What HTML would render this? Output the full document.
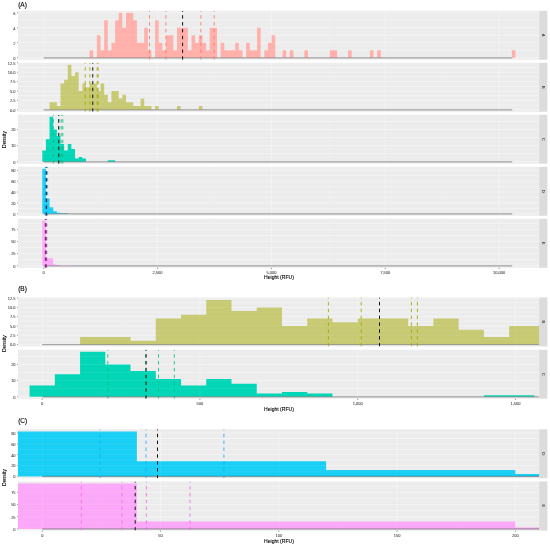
<!DOCTYPE html>
<html><head><meta charset="utf-8"><title>Height (RFU) density histograms</title>
<style>
html,body{margin:0;padding:0;background:#fff}
svg{display:block}
text{font-family:"Liberation Sans",sans-serif}
.t{font-size:4px;fill:#4D4D4D;stroke:#4D4D4D;stroke-width:0.08px}
.s{font-size:4.3px;fill:#1A1A1A}
.a{font-size:5.1px;fill:#000;stroke:#000;stroke-width:0.1px}
.h{font-size:6.5px;fill:#000;stroke:#000;stroke-width:0.12px}
</style></head><body>
<svg width="550" height="548" viewBox="0 0 550 548">
<rect width="550" height="548" fill="#fff"/>
<clipPath id="c0"><rect x="18" y="10.8" width="521.15" height="48.95"/></clipPath>
<rect x="18" y="10.8" width="521.15" height="48.95" fill="#ECECEC"/>
<rect x="539.15" y="10.8" width="8.25" height="48.95" fill="#DCDCDC"/>
<g clip-path="url(#c0)">
<path d="M18 50.24H539.15M18 35.22H539.15M18 20.21H539.15" stroke="#fff" stroke-opacity="0.42" stroke-width="0.9" fill="none"/>
<path d="M18 57.75H539.15M18 42.73H539.15M18 27.72H539.15M18 12.7H539.15" stroke="#fff" stroke-opacity="0.45" stroke-width="0.9" fill="none"/>
<path d="M100.62 10.8V59.75M214.47 10.8V59.75M328.32 10.8V59.75M442.17 10.8V59.75" stroke="#fff" stroke-opacity="0.22" stroke-width="0.6" fill="none"/>
<path d="M43.7 10.8V59.75M157.55 10.8V59.75M271.4 10.8V59.75M385.25 10.8V59.75M499.1 10.8V59.75" stroke="#fff" stroke-opacity="0.38" stroke-width="0.9" fill="none"/>
<line x1="43.7" x2="512.2" y1="57.75" y2="57.75" stroke="#A3A3A3" stroke-width="1.15"/>
<path d="M89.6 57.75V50.24H93.24V57.75ZM96.88 57.75V35.22H100.52V57.75ZM100.52 57.75V50.24H104.16V57.75ZM104.16 57.75V20.21H107.8V57.75ZM107.8 57.75V50.24H111.44V57.75ZM111.44 57.75V42.73H115.08V57.75ZM115.08 57.75V20.21H118.72V57.75ZM118.72 57.75V12.7H122.36V57.75ZM122.36 57.75V27.72H126V57.75ZM126 57.75V12.7H129.64V57.75ZM129.64 57.75V12.7H133.28V57.75ZM133.28 57.75V20.21H136.92V57.75ZM136.92 57.75V42.73H140.56V57.75ZM140.56 57.75V42.73H144.2V57.75ZM144.2 57.75V27.72H147.84V57.75ZM147.84 57.75V50.24H151.48V57.75ZM155.12 57.75V20.21H158.76V57.75ZM158.76 57.75V42.73H162.4V57.75ZM162.4 57.75V50.24H166.04V57.75ZM166.04 57.75V35.22H169.68V57.75ZM169.68 57.75V35.22H173.32V57.75ZM173.32 57.75V50.24H176.96V57.75ZM176.96 57.75V27.72H180.6V57.75ZM180.6 57.75V27.72H184.24V57.75ZM184.24 57.75V27.72H187.88V57.75ZM187.88 57.75V50.24H191.52V57.75ZM191.52 57.75V35.22H195.16V57.75ZM195.16 57.75V42.73H198.8V57.75ZM198.8 57.75V35.22H202.44V57.75ZM202.44 57.75V42.73H206.08V57.75ZM206.08 57.75V50.24H209.72V57.75ZM209.72 57.75V27.72H213.36V57.75ZM213.36 57.75V27.72H217V57.75ZM220.64 57.75V42.73H224.28V57.75ZM224.28 57.75V50.24H227.92V57.75ZM227.92 57.75V50.24H231.56V57.75ZM231.56 57.75V50.24H235.2V57.75ZM235.2 57.75V42.73H238.84V57.75ZM238.84 57.75V50.24H242.48V57.75ZM246.12 57.75V42.73H249.76V57.75ZM249.76 57.75V50.24H253.4V57.75ZM253.4 57.75V50.24H257.04V57.75ZM257.04 57.75V27.72H260.68V57.75ZM264.32 57.75V50.24H267.96V57.75ZM267.96 57.75V42.73H271.6V57.75ZM271.6 57.75V35.22H275.24V57.75ZM282.52 57.75V50.24H286.16V57.75ZM289.8 57.75V50.24H293.44V57.75ZM304.36 57.75V50.24H308V57.75ZM329.84 57.75V50.24H333.48V57.75ZM333.48 57.75V50.24H337.12V57.75ZM348.04 57.75V50.24H351.68V57.75ZM369.88 57.75V50.24H373.52V57.75ZM377.16 57.75V50.24H380.8V57.75ZM511.84 57.75V50.24H515.48V57.75Z" fill="#FFB0AA"/>
<path d="M18 50.24H539.15M18 35.22H539.15M18 20.21H539.15" stroke="#fff" stroke-opacity="0.084" stroke-width="0.9" fill="none"/>
<path d="M18 57.75H539.15M18 42.73H539.15M18 27.72H539.15M18 12.7H539.15" stroke="#fff" stroke-opacity="0.09" stroke-width="0.9" fill="none"/>
<path d="M100.62 10.8V59.75M214.47 10.8V59.75M328.32 10.8V59.75M442.17 10.8V59.75" stroke="#fff" stroke-opacity="0.044" stroke-width="0.6" fill="none"/>
<path d="M43.7 10.8V59.75M157.55 10.8V59.75M271.4 10.8V59.75M385.25 10.8V59.75M499.1 10.8V59.75" stroke="#fff" stroke-opacity="0.076" stroke-width="0.9" fill="none"/>
<line x1="43.7" x2="512.2" y1="58.04" y2="58.04" stroke="#A3A3A3" stroke-width="0.575"/>
<path d="M89.6 57.75V57.17H93.24V57.75ZM96.88 57.75V57.17H100.52V57.75ZM100.52 57.75V57.17H104.16V57.75ZM104.16 57.75V57.17H107.8V57.75ZM107.8 57.75V57.17H111.44V57.75ZM111.44 57.75V57.17H115.08V57.75ZM115.08 57.75V57.17H118.72V57.75ZM118.72 57.75V57.17H122.36V57.75ZM122.36 57.75V57.17H126V57.75ZM126 57.75V57.17H129.64V57.75ZM129.64 57.75V57.17H133.28V57.75ZM133.28 57.75V57.17H136.92V57.75ZM136.92 57.75V57.17H140.56V57.75ZM140.56 57.75V57.17H144.2V57.75ZM144.2 57.75V57.17H147.84V57.75ZM147.84 57.75V57.17H151.48V57.75ZM155.12 57.75V57.17H158.76V57.75ZM158.76 57.75V57.17H162.4V57.75ZM162.4 57.75V57.17H166.04V57.75ZM166.04 57.75V57.17H169.68V57.75ZM169.68 57.75V57.17H173.32V57.75ZM173.32 57.75V57.17H176.96V57.75ZM176.96 57.75V57.17H180.6V57.75ZM180.6 57.75V57.17H184.24V57.75ZM184.24 57.75V57.17H187.88V57.75ZM187.88 57.75V57.17H191.52V57.75ZM191.52 57.75V57.17H195.16V57.75ZM195.16 57.75V57.17H198.8V57.75ZM198.8 57.75V57.17H202.44V57.75ZM202.44 57.75V57.17H206.08V57.75ZM206.08 57.75V57.17H209.72V57.75ZM209.72 57.75V57.17H213.36V57.75ZM213.36 57.75V57.17H217V57.75ZM220.64 57.75V57.17H224.28V57.75ZM224.28 57.75V57.17H227.92V57.75ZM227.92 57.75V57.17H231.56V57.75ZM231.56 57.75V57.17H235.2V57.75ZM235.2 57.75V57.17H238.84V57.75ZM238.84 57.75V57.17H242.48V57.75ZM246.12 57.75V57.17H249.76V57.75ZM249.76 57.75V57.17H253.4V57.75ZM253.4 57.75V57.17H257.04V57.75ZM257.04 57.75V57.17H260.68V57.75ZM264.32 57.75V57.17H267.96V57.75ZM267.96 57.75V57.17H271.6V57.75ZM271.6 57.75V57.17H275.24V57.75ZM282.52 57.75V57.17H286.16V57.75ZM289.8 57.75V57.17H293.44V57.75ZM304.36 57.75V57.17H308V57.75ZM329.84 57.75V57.17H333.48V57.75ZM333.48 57.75V57.17H337.12V57.75ZM348.04 57.75V57.17H351.68V57.75ZM369.88 57.75V57.17H373.52V57.75ZM377.16 57.75V57.17H380.8V57.75ZM511.84 57.75V57.17H512.2V57.75Z" fill="#000" fill-opacity="0.22"/>
<line x1="149.5" x2="149.5" y1="59.75" y2="10.8" stroke="#F8766D" stroke-width="0.85" stroke-dasharray="3.42 3.43"/>
<line x1="165.9" x2="165.9" y1="59.75" y2="10.8" stroke="#F8766D" stroke-width="0.85" stroke-dasharray="3.42 3.43"/>
<line x1="200.9" x2="200.9" y1="59.75" y2="10.8" stroke="#F8766D" stroke-width="0.85" stroke-dasharray="3.42 3.43"/>
<line x1="214.15" x2="214.15" y1="59.75" y2="10.8" stroke="#F8766D" stroke-width="0.85" stroke-dasharray="3.42 3.43"/>
<line x1="182.6" x2="182.6" y1="59.75" y2="10.8" stroke="#111" stroke-width="1.0" stroke-dasharray="3.42 3.43"/>
</g>
<line x1="17" x2="18" y1="57.75" y2="57.75" stroke="#333" stroke-width="0.5"/>
<text x="15.6" y="59.55" text-anchor="end" class="t">0</text>
<line x1="17" x2="18" y1="42.73" y2="42.73" stroke="#333" stroke-width="0.5"/>
<text x="15.6" y="44.53" text-anchor="end" class="t">2</text>
<line x1="17" x2="18" y1="27.72" y2="27.72" stroke="#333" stroke-width="0.5"/>
<text x="15.6" y="29.52" text-anchor="end" class="t">4</text>
<line x1="17" x2="18" y1="12.7" y2="12.7" stroke="#333" stroke-width="0.5"/>
<text x="15.6" y="14.5" text-anchor="end" class="t">6</text>
<text transform="translate(541.57 35.27) rotate(90)" text-anchor="middle" class="s">A</text>
<clipPath id="c1"><rect x="18" y="62.8" width="521.15" height="48.95"/></clipPath>
<rect x="18" y="62.8" width="521.15" height="48.95" fill="#ECECEC"/>
<rect x="539.15" y="62.8" width="8.25" height="48.95" fill="#DCDCDC"/>
<g clip-path="url(#c1)">
<path d="M18 105.06H539.15M18 95.67H539.15M18 86.29H539.15M18 76.9H539.15M18 67.52H539.15" stroke="#fff" stroke-opacity="0.42" stroke-width="0.9" fill="none"/>
<path d="M18 109.75H539.15M18 100.36H539.15M18 90.98H539.15M18 81.59H539.15M18 72.21H539.15M18 62.82H539.15" stroke="#fff" stroke-opacity="0.45" stroke-width="0.9" fill="none"/>
<path d="M100.62 62.8V111.75M214.47 62.8V111.75M328.32 62.8V111.75M442.17 62.8V111.75" stroke="#fff" stroke-opacity="0.22" stroke-width="0.6" fill="none"/>
<path d="M43.7 62.8V111.75M157.55 62.8V111.75M271.4 62.8V111.75M385.25 62.8V111.75M499.1 62.8V111.75" stroke="#fff" stroke-opacity="0.38" stroke-width="0.9" fill="none"/>
<line x1="43.7" x2="512.2" y1="109.75" y2="109.75" stroke="#A3A3A3" stroke-width="1.15"/>
<path d="M49.56 109.75V102.24H53.2V109.75ZM53.2 109.75V102.24H56.84V109.75ZM56.84 109.75V106H60.48V109.75ZM60.48 109.75V83.47H64.12V109.75ZM64.12 109.75V79.72H67.76V109.75ZM67.76 109.75V64.7H71.4V109.75ZM71.4 109.75V75.96H75.04V109.75ZM75.04 109.75V72.21H78.68V109.75ZM78.68 109.75V90.98H82.32V109.75ZM82.32 109.75V83.47H85.96V109.75ZM85.96 109.75V87.22H89.6V109.75ZM89.6 109.75V83.47H93.24V109.75ZM93.24 109.75V83.47H96.88V109.75ZM96.88 109.75V90.98H100.52V109.75ZM100.52 109.75V83.47H104.16V109.75ZM104.16 109.75V94.73H107.8V109.75ZM107.8 109.75V102.24H111.44V109.75ZM111.44 109.75V90.98H115.08V109.75ZM115.08 109.75V90.98H118.72V109.75ZM118.72 109.75V98.49H122.36V109.75ZM122.36 109.75V94.73H126V109.75ZM126 109.75V102.24H129.64V109.75ZM129.64 109.75V102.24H133.28V109.75ZM133.28 109.75V106H136.92V109.75ZM136.92 109.75V106H140.56V109.75ZM140.56 109.75V98.49H144.2V109.75ZM144.2 109.75V106H147.84V109.75ZM147.84 109.75V106H151.48V109.75ZM155.12 109.75V106H158.76V109.75ZM176.96 109.75V106H180.6V109.75ZM198.8 109.75V106H202.44V109.75Z" fill="#C7CA72"/>
<path d="M18 105.06H539.15M18 95.67H539.15M18 86.29H539.15M18 76.9H539.15M18 67.52H539.15" stroke="#fff" stroke-opacity="0.084" stroke-width="0.9" fill="none"/>
<path d="M18 109.75H539.15M18 100.36H539.15M18 90.98H539.15M18 81.59H539.15M18 72.21H539.15M18 62.82H539.15" stroke="#fff" stroke-opacity="0.09" stroke-width="0.9" fill="none"/>
<path d="M100.62 62.8V111.75M214.47 62.8V111.75M328.32 62.8V111.75M442.17 62.8V111.75" stroke="#fff" stroke-opacity="0.044" stroke-width="0.6" fill="none"/>
<path d="M43.7 62.8V111.75M157.55 62.8V111.75M271.4 62.8V111.75M385.25 62.8V111.75M499.1 62.8V111.75" stroke="#fff" stroke-opacity="0.076" stroke-width="0.9" fill="none"/>
<line x1="43.7" x2="512.2" y1="110.04" y2="110.04" stroke="#A3A3A3" stroke-width="0.575"/>
<path d="M49.56 109.75V109.17H53.2V109.75ZM53.2 109.75V109.17H56.84V109.75ZM56.84 109.75V109.17H60.48V109.75ZM60.48 109.75V109.17H64.12V109.75ZM64.12 109.75V109.17H67.76V109.75ZM67.76 109.75V109.17H71.4V109.75ZM71.4 109.75V109.17H75.04V109.75ZM75.04 109.75V109.17H78.68V109.75ZM78.68 109.75V109.17H82.32V109.75ZM82.32 109.75V109.17H85.96V109.75ZM85.96 109.75V109.17H89.6V109.75ZM89.6 109.75V109.17H93.24V109.75ZM93.24 109.75V109.17H96.88V109.75ZM96.88 109.75V109.17H100.52V109.75ZM100.52 109.75V109.17H104.16V109.75ZM104.16 109.75V109.17H107.8V109.75ZM107.8 109.75V109.17H111.44V109.75ZM111.44 109.75V109.17H115.08V109.75ZM115.08 109.75V109.17H118.72V109.75ZM118.72 109.75V109.17H122.36V109.75ZM122.36 109.75V109.17H126V109.75ZM126 109.75V109.17H129.64V109.75ZM129.64 109.75V109.17H133.28V109.75ZM133.28 109.75V109.17H136.92V109.75ZM136.92 109.75V109.17H140.56V109.75ZM140.56 109.75V109.17H144.2V109.75ZM144.2 109.75V109.17H147.84V109.75ZM147.84 109.75V109.17H151.48V109.75ZM155.12 109.75V109.17H158.76V109.75ZM176.96 109.75V109.17H180.6V109.75ZM198.8 109.75V109.17H202.44V109.75Z" fill="#000" fill-opacity="0.22"/>
<line x1="85.25" x2="85.25" y1="111.75" y2="62.8" stroke="#A3A500" stroke-width="0.85" stroke-dasharray="3.42 3.43"/>
<line x1="89.85" x2="89.85" y1="111.75" y2="62.8" stroke="#A3A500" stroke-width="0.85" stroke-dasharray="3.42 3.43"/>
<line x1="97.2" x2="97.2" y1="111.75" y2="62.8" stroke="#A3A500" stroke-width="0.85" stroke-dasharray="3.42 3.43"/>
<line x1="98.1" x2="98.1" y1="111.75" y2="62.8" stroke="#A3A500" stroke-width="0.85" stroke-dasharray="3.42 3.43"/>
<line x1="92.75" x2="92.75" y1="111.75" y2="62.8" stroke="#111" stroke-width="1.0" stroke-dasharray="3.42 3.43"/>
</g>
<line x1="17" x2="18" y1="109.75" y2="109.75" stroke="#333" stroke-width="0.5"/>
<text x="15.6" y="111.55" text-anchor="end" class="t">0.0</text>
<line x1="17" x2="18" y1="100.36" y2="100.36" stroke="#333" stroke-width="0.5"/>
<text x="15.6" y="102.16" text-anchor="end" class="t">2.5</text>
<line x1="17" x2="18" y1="90.98" y2="90.98" stroke="#333" stroke-width="0.5"/>
<text x="15.6" y="92.78" text-anchor="end" class="t">5.0</text>
<line x1="17" x2="18" y1="81.59" y2="81.59" stroke="#333" stroke-width="0.5"/>
<text x="15.6" y="83.39" text-anchor="end" class="t">7.5</text>
<line x1="17" x2="18" y1="72.21" y2="72.21" stroke="#333" stroke-width="0.5"/>
<text x="15.6" y="74.01" text-anchor="end" class="t">10.0</text>
<line x1="17" x2="18" y1="62.82" y2="62.82" stroke="#333" stroke-width="0.5"/>
<text x="15.6" y="64.62" text-anchor="end" class="t">12.5</text>
<text transform="translate(541.57 87.28) rotate(90)" text-anchor="middle" class="s">B</text>
<clipPath id="c2"><rect x="18" y="114.8" width="521.15" height="48.95"/></clipPath>
<rect x="18" y="114.8" width="521.15" height="48.95" fill="#ECECEC"/>
<rect x="539.15" y="114.8" width="8.25" height="48.95" fill="#DCDCDC"/>
<g clip-path="url(#c2)">
<path d="M18 153.71H539.15M18 137.62H539.15M18 121.53H539.15" stroke="#fff" stroke-opacity="0.42" stroke-width="0.9" fill="none"/>
<path d="M18 161.75H539.15M18 145.66H539.15M18 129.57H539.15" stroke="#fff" stroke-opacity="0.45" stroke-width="0.9" fill="none"/>
<path d="M100.62 114.8V163.75M214.47 114.8V163.75M328.32 114.8V163.75M442.17 114.8V163.75" stroke="#fff" stroke-opacity="0.22" stroke-width="0.6" fill="none"/>
<path d="M43.7 114.8V163.75M157.55 114.8V163.75M271.4 114.8V163.75M385.25 114.8V163.75M499.1 114.8V163.75" stroke="#fff" stroke-opacity="0.38" stroke-width="0.9" fill="none"/>
<line x1="43.7" x2="512.2" y1="161.75" y2="161.75" stroke="#A3A3A3" stroke-width="1.15"/>
<path d="M42.28 161.75V150.49H45.92V161.75ZM45.92 161.75V139.22H49.56V161.75ZM49.56 161.75V116.7H53.2V161.75ZM53.2 161.75V129.57H56.84V161.75ZM56.84 161.75V136.01H60.48V161.75ZM60.48 161.75V144.05H64.12V161.75ZM64.12 161.75V150.49H67.76V161.75ZM67.76 161.75V144.05H71.4V161.75ZM71.4 161.75V148.88H75.04V161.75ZM75.04 161.75V158.53H78.68V161.75ZM78.68 161.75V156.92H82.32V161.75ZM82.32 161.75V158.53H85.96V161.75ZM107.8 161.75V160.14H111.44V161.75ZM111.44 161.75V160.14H115.08V161.75Z" fill="#03D6B6"/>
<path d="M18 153.71H539.15M18 137.62H539.15M18 121.53H539.15" stroke="#fff" stroke-opacity="0.084" stroke-width="0.9" fill="none"/>
<path d="M18 161.75H539.15M18 145.66H539.15M18 129.57H539.15" stroke="#fff" stroke-opacity="0.09" stroke-width="0.9" fill="none"/>
<path d="M100.62 114.8V163.75M214.47 114.8V163.75M328.32 114.8V163.75M442.17 114.8V163.75" stroke="#fff" stroke-opacity="0.044" stroke-width="0.6" fill="none"/>
<path d="M43.7 114.8V163.75M157.55 114.8V163.75M271.4 114.8V163.75M385.25 114.8V163.75M499.1 114.8V163.75" stroke="#fff" stroke-opacity="0.076" stroke-width="0.9" fill="none"/>
<line x1="43.7" x2="512.2" y1="162.04" y2="162.04" stroke="#A3A3A3" stroke-width="0.575"/>
<path d="M43.7 161.75V161.18H45.92V161.75ZM45.92 161.75V161.18H49.56V161.75ZM49.56 161.75V161.18H53.2V161.75ZM53.2 161.75V161.18H56.84V161.75ZM56.84 161.75V161.18H60.48V161.75ZM60.48 161.75V161.18H64.12V161.75ZM64.12 161.75V161.18H67.76V161.75ZM67.76 161.75V161.18H71.4V161.75ZM71.4 161.75V161.18H75.04V161.75ZM75.04 161.75V161.18H78.68V161.75ZM78.68 161.75V161.18H82.32V161.75ZM82.32 161.75V161.18H85.96V161.75ZM107.8 161.75V161.18H111.44V161.75ZM111.44 161.75V161.18H115.08V161.75Z" fill="#000" fill-opacity="0.22"/>
<line x1="53.3" x2="53.3" y1="163.75" y2="114.8" stroke="#00BF7D" stroke-width="0.85" stroke-dasharray="3.42 3.43"/>
<line x1="58.5" x2="58.5" y1="163.75" y2="114.8" stroke="#00BF7D" stroke-width="0.85" stroke-dasharray="3.42 3.43"/>
<line x1="61.2" x2="61.2" y1="163.75" y2="114.8" stroke="#00BF7D" stroke-width="0.85" stroke-dasharray="3.42 3.43"/>
<line x1="62.8" x2="62.8" y1="163.75" y2="114.8" stroke="#00BF7D" stroke-width="0.85" stroke-dasharray="3.42 3.43"/>
<line x1="58.8" x2="58.8" y1="163.75" y2="114.8" stroke="#111" stroke-width="1.0" stroke-dasharray="3.42 3.43"/>
</g>
<line x1="17" x2="18" y1="161.75" y2="161.75" stroke="#333" stroke-width="0.5"/>
<text x="15.6" y="163.55" text-anchor="end" class="t">0</text>
<line x1="17" x2="18" y1="145.66" y2="145.66" stroke="#333" stroke-width="0.5"/>
<text x="15.6" y="147.46" text-anchor="end" class="t">10</text>
<line x1="17" x2="18" y1="129.57" y2="129.57" stroke="#333" stroke-width="0.5"/>
<text x="15.6" y="131.37" text-anchor="end" class="t">20</text>
<text transform="translate(541.57 139.28) rotate(90)" text-anchor="middle" class="s">C</text>
<clipPath id="c3"><rect x="18" y="166.8" width="521.15" height="48.95"/></clipPath>
<rect x="18" y="166.8" width="521.15" height="48.95" fill="#ECECEC"/>
<rect x="539.15" y="166.8" width="8.25" height="48.95" fill="#DCDCDC"/>
<g clip-path="url(#c3)">
<path d="M18 208.32H539.15M18 197.47H539.15M18 186.61H539.15M18 175.76H539.15" stroke="#fff" stroke-opacity="0.42" stroke-width="0.9" fill="none"/>
<path d="M18 213.75H539.15M18 202.89H539.15M18 192.04H539.15M18 181.18H539.15M18 170.33H539.15" stroke="#fff" stroke-opacity="0.45" stroke-width="0.9" fill="none"/>
<path d="M100.62 166.8V215.75M214.47 166.8V215.75M328.32 166.8V215.75M442.17 166.8V215.75" stroke="#fff" stroke-opacity="0.22" stroke-width="0.6" fill="none"/>
<path d="M43.7 166.8V215.75M157.55 166.8V215.75M271.4 166.8V215.75M385.25 166.8V215.75M499.1 166.8V215.75" stroke="#fff" stroke-opacity="0.38" stroke-width="0.9" fill="none"/>
<line x1="43.7" x2="512.2" y1="213.75" y2="213.75" stroke="#A3A3A3" stroke-width="1.15"/>
<path d="M42.28 213.75V168.7H45.92V213.75ZM45.92 213.75V198.55H49.56V213.75ZM49.56 213.75V207.24H53.2V213.75ZM53.2 213.75V211.36H56.84V213.75ZM56.84 213.75V212.66H60.48V213.75ZM60.48 213.75V213.21H64.12V213.75ZM64.12 213.75V213.21H67.76V213.75Z" fill="#19CFF5"/>
<path d="M18 208.32H539.15M18 197.47H539.15M18 186.61H539.15M18 175.76H539.15" stroke="#fff" stroke-opacity="0.084" stroke-width="0.9" fill="none"/>
<path d="M18 213.75H539.15M18 202.89H539.15M18 192.04H539.15M18 181.18H539.15M18 170.33H539.15" stroke="#fff" stroke-opacity="0.09" stroke-width="0.9" fill="none"/>
<path d="M100.62 166.8V215.75M214.47 166.8V215.75M328.32 166.8V215.75M442.17 166.8V215.75" stroke="#fff" stroke-opacity="0.044" stroke-width="0.6" fill="none"/>
<path d="M43.7 166.8V215.75M157.55 166.8V215.75M271.4 166.8V215.75M385.25 166.8V215.75M499.1 166.8V215.75" stroke="#fff" stroke-opacity="0.076" stroke-width="0.9" fill="none"/>
<line x1="43.7" x2="512.2" y1="214.04" y2="214.04" stroke="#A3A3A3" stroke-width="0.575"/>
<path d="M43.7 213.75V213.18H45.92V213.75ZM45.92 213.75V213.18H49.56V213.75ZM49.56 213.75V213.18H53.2V213.75ZM53.2 213.75V213.18H56.84V213.75ZM56.84 213.75V213.18H60.48V213.75ZM60.48 213.75V213.18H64.12V213.75ZM64.12 213.75V213.18H67.76V213.75Z" fill="#000" fill-opacity="0.22"/>
<line x1="45.2" x2="45.2" y1="215.75" y2="166.8" stroke="#1AAEF5" stroke-width="0.85" stroke-dasharray="3.42 3.43"/>
<line x1="46.1" x2="46.1" y1="215.75" y2="166.8" stroke="#1AAEF5" stroke-width="0.85" stroke-dasharray="3.42 3.43"/>
<line x1="47.6" x2="47.6" y1="215.75" y2="166.8" stroke="#1AAEF5" stroke-width="0.85" stroke-dasharray="3.42 3.43"/>
<line x1="46.3" x2="46.3" y1="215.75" y2="166.8" stroke="#111" stroke-width="1.0" stroke-dasharray="3.42 3.43"/>
</g>
<line x1="17" x2="18" y1="213.75" y2="213.75" stroke="#333" stroke-width="0.5"/>
<text x="15.6" y="215.55" text-anchor="end" class="t">0</text>
<line x1="17" x2="18" y1="202.89" y2="202.89" stroke="#333" stroke-width="0.5"/>
<text x="15.6" y="204.69" text-anchor="end" class="t">20</text>
<line x1="17" x2="18" y1="192.04" y2="192.04" stroke="#333" stroke-width="0.5"/>
<text x="15.6" y="193.84" text-anchor="end" class="t">40</text>
<line x1="17" x2="18" y1="181.18" y2="181.18" stroke="#333" stroke-width="0.5"/>
<text x="15.6" y="182.98" text-anchor="end" class="t">60</text>
<line x1="17" x2="18" y1="170.33" y2="170.33" stroke="#333" stroke-width="0.5"/>
<text x="15.6" y="172.13" text-anchor="end" class="t">80</text>
<text transform="translate(541.57 191.28) rotate(90)" text-anchor="middle" class="s">D</text>
<clipPath id="c4"><rect x="18" y="218.8" width="521.15" height="48.95"/></clipPath>
<rect x="18" y="218.8" width="521.15" height="48.95" fill="#ECECEC"/>
<rect x="539.15" y="218.8" width="8.25" height="48.95" fill="#DCDCDC"/>
<g clip-path="url(#c4)">
<path d="M18 259.69H539.15M18 247.58H539.15M18 235.47H539.15M18 223.36H539.15" stroke="#fff" stroke-opacity="0.42" stroke-width="0.9" fill="none"/>
<path d="M18 265.75H539.15M18 253.64H539.15M18 241.53H539.15M18 229.42H539.15" stroke="#fff" stroke-opacity="0.45" stroke-width="0.9" fill="none"/>
<path d="M100.62 218.8V267.75M214.47 218.8V267.75M328.32 218.8V267.75M442.17 218.8V267.75" stroke="#fff" stroke-opacity="0.22" stroke-width="0.6" fill="none"/>
<path d="M43.7 218.8V267.75M157.55 218.8V267.75M271.4 218.8V267.75M385.25 218.8V267.75M499.1 218.8V267.75" stroke="#fff" stroke-opacity="0.38" stroke-width="0.9" fill="none"/>
<line x1="43.7" x2="512.2" y1="265.75" y2="265.75" stroke="#A3A3A3" stroke-width="1.15"/>
<path d="M42.28 265.75V220.7H45.92V265.75ZM45.92 265.75V258.24H49.56V265.75ZM49.56 265.75V258.24H53.2V265.75ZM53.2 265.75V264.39H56.84V265.75ZM56.84 265.75V265.17H60.48V265.75ZM60.48 265.75V265.27H64.12V265.75ZM64.12 265.75V265.27H67.76V265.75ZM67.76 265.75V265.27H71.4V265.75Z" fill="#FCA8F8"/>
<path d="M18 259.69H539.15M18 247.58H539.15M18 235.47H539.15M18 223.36H539.15" stroke="#fff" stroke-opacity="0.084" stroke-width="0.9" fill="none"/>
<path d="M18 265.75H539.15M18 253.64H539.15M18 241.53H539.15M18 229.42H539.15" stroke="#fff" stroke-opacity="0.09" stroke-width="0.9" fill="none"/>
<path d="M100.62 218.8V267.75M214.47 218.8V267.75M328.32 218.8V267.75M442.17 218.8V267.75" stroke="#fff" stroke-opacity="0.044" stroke-width="0.6" fill="none"/>
<path d="M43.7 218.8V267.75M157.55 218.8V267.75M271.4 218.8V267.75M385.25 218.8V267.75M499.1 218.8V267.75" stroke="#fff" stroke-opacity="0.076" stroke-width="0.9" fill="none"/>
<line x1="43.7" x2="512.2" y1="266.04" y2="266.04" stroke="#A3A3A3" stroke-width="0.575"/>
<path d="M43.7 265.75V265.18H45.92V265.75ZM45.92 265.75V265.18H49.56V265.75ZM49.56 265.75V265.18H53.2V265.75ZM53.2 265.75V265.18H56.84V265.75ZM56.84 265.75V265.18H60.48V265.75Z" fill="#000" fill-opacity="0.22"/>
<line x1="44.85" x2="44.85" y1="267.75" y2="218.8" stroke="#F26CEE" stroke-width="0.85" stroke-dasharray="3.42 3.43"/>
<line x1="45.6" x2="45.6" y1="267.75" y2="218.8" stroke="#F26CEE" stroke-width="0.85" stroke-dasharray="3.42 3.43"/>
<line x1="46.1" x2="46.1" y1="267.75" y2="218.8" stroke="#F26CEE" stroke-width="0.85" stroke-dasharray="3.42 3.43"/>
<line x1="46.9" x2="46.9" y1="267.75" y2="218.8" stroke="#F26CEE" stroke-width="0.85" stroke-dasharray="3.42 3.43"/>
<line x1="45.9" x2="45.9" y1="267.75" y2="218.8" stroke="#111" stroke-width="1.0" stroke-dasharray="3.42 3.43"/>
</g>
<line x1="17" x2="18" y1="265.75" y2="265.75" stroke="#333" stroke-width="0.5"/>
<text x="15.6" y="267.55" text-anchor="end" class="t">0</text>
<line x1="17" x2="18" y1="253.64" y2="253.64" stroke="#333" stroke-width="0.5"/>
<text x="15.6" y="255.44" text-anchor="end" class="t">25</text>
<line x1="17" x2="18" y1="241.53" y2="241.53" stroke="#333" stroke-width="0.5"/>
<text x="15.6" y="243.33" text-anchor="end" class="t">50</text>
<line x1="17" x2="18" y1="229.42" y2="229.42" stroke="#333" stroke-width="0.5"/>
<text x="15.6" y="231.22" text-anchor="end" class="t">75</text>
<text transform="translate(541.57 243.28) rotate(90)" text-anchor="middle" class="s">E</text>
<line x1="43.7" x2="43.7" y1="267.75" y2="269.05" stroke="#333" stroke-width="0.5"/>
<text x="43.7" y="273.7" text-anchor="middle" class="t">0</text>
<line x1="157.55" x2="157.55" y1="267.75" y2="269.05" stroke="#333" stroke-width="0.5"/>
<text x="157.55" y="273.7" text-anchor="middle" class="t">2,500</text>
<line x1="271.4" x2="271.4" y1="267.75" y2="269.05" stroke="#333" stroke-width="0.5"/>
<text x="271.4" y="273.7" text-anchor="middle" class="t">5,000</text>
<line x1="385.25" x2="385.25" y1="267.75" y2="269.05" stroke="#333" stroke-width="0.5"/>
<text x="385.25" y="273.7" text-anchor="middle" class="t">7,500</text>
<line x1="499.1" x2="499.1" y1="267.75" y2="269.05" stroke="#333" stroke-width="0.5"/>
<text x="499.1" y="273.7" text-anchor="middle" class="t">10,000</text>
<text x="279" y="279.4" text-anchor="middle" class="a">Height (RFU)</text>
<text x="18.2" y="6.5" class="h">(A)</text>
<text transform="translate(6.1 139.5) rotate(-90)" text-anchor="middle" class="a">Density</text>
<clipPath id="c5"><rect x="18" y="297.45" width="521.15" height="49"/></clipPath>
<rect x="18" y="297.45" width="521.15" height="49" fill="#ECECEC"/>
<rect x="539.15" y="297.45" width="8.25" height="49" fill="#DCDCDC"/>
<g clip-path="url(#c5)">
<path d="M18 339.82H539.15M18 330.56H539.15M18 321.3H539.15M18 312.04H539.15M18 302.78H539.15" stroke="#fff" stroke-opacity="0.42" stroke-width="0.9" fill="none"/>
<path d="M18 344.45H539.15M18 335.19H539.15M18 325.93H539.15M18 316.67H539.15M18 307.41H539.15M18 298.15H539.15" stroke="#fff" stroke-opacity="0.45" stroke-width="0.9" fill="none"/>
<path d="M121.08 297.45V346.45M278.82 297.45V346.45M436.57 297.45V346.45" stroke="#fff" stroke-opacity="0.22" stroke-width="0.6" fill="none"/>
<path d="M42.2 297.45V346.45M199.95 297.45V346.45M357.7 297.45V346.45M515.45 297.45V346.45" stroke="#fff" stroke-opacity="0.38" stroke-width="0.9" fill="none"/>
<line x1="42.2" x2="539.15" y1="344.45" y2="344.45" stroke="#A3A3A3" stroke-width="1.15"/>
<path d="M80.06 344.45V337.04H105.3V344.45ZM105.3 344.45V337.04H130.54V344.45ZM130.54 344.45V340.75H155.78V344.45ZM155.78 344.45V318.52H181.02V344.45ZM181.02 344.45V314.82H206.26V344.45ZM206.26 344.45V300H231.5V344.45ZM231.5 344.45V311.11H256.74V344.45ZM256.74 344.45V307.41H281.98V344.45ZM281.98 344.45V325.93H307.22V344.45ZM307.22 344.45V318.52H332.46V344.45ZM332.46 344.45V322.22H357.7V344.45ZM357.7 344.45V318.52H382.94V344.45ZM382.94 344.45V318.52H408.18V344.45ZM408.18 344.45V325.93H433.42V344.45ZM433.42 344.45V318.52H458.66V344.45ZM458.66 344.45V329.63H483.9V344.45ZM483.9 344.45V337.04H509.14V344.45ZM509.14 344.45V325.93H534.38V344.45ZM534.38 344.45V325.93H559.62V344.45Z" fill="#C7CA72"/>
<path d="M18 339.82H539.15M18 330.56H539.15M18 321.3H539.15M18 312.04H539.15M18 302.78H539.15" stroke="#fff" stroke-opacity="0.084" stroke-width="0.9" fill="none"/>
<path d="M18 344.45H539.15M18 335.19H539.15M18 325.93H539.15M18 316.67H539.15M18 307.41H539.15M18 298.15H539.15" stroke="#fff" stroke-opacity="0.09" stroke-width="0.9" fill="none"/>
<path d="M121.08 297.45V346.45M278.82 297.45V346.45M436.57 297.45V346.45" stroke="#fff" stroke-opacity="0.044" stroke-width="0.6" fill="none"/>
<path d="M42.2 297.45V346.45M199.95 297.45V346.45M357.7 297.45V346.45M515.45 297.45V346.45" stroke="#fff" stroke-opacity="0.076" stroke-width="0.9" fill="none"/>
<line x1="42.2" x2="539.15" y1="344.74" y2="344.74" stroke="#A3A3A3" stroke-width="0.575"/>
<path d="M80.06 344.45V343.88H105.3V344.45ZM105.3 344.45V343.88H130.54V344.45ZM130.54 344.45V343.88H155.78V344.45ZM155.78 344.45V343.88H181.02V344.45ZM181.02 344.45V343.88H206.26V344.45ZM206.26 344.45V343.88H231.5V344.45ZM231.5 344.45V343.88H256.74V344.45ZM256.74 344.45V343.88H281.98V344.45ZM281.98 344.45V343.88H307.22V344.45ZM307.22 344.45V343.88H332.46V344.45ZM332.46 344.45V343.88H357.7V344.45ZM357.7 344.45V343.88H382.94V344.45ZM382.94 344.45V343.88H408.18V344.45ZM408.18 344.45V343.88H433.42V344.45ZM433.42 344.45V343.88H458.66V344.45ZM458.66 344.45V343.88H483.9V344.45ZM483.9 344.45V343.88H509.14V344.45ZM509.14 344.45V343.88H534.38V344.45ZM534.38 344.45V343.88H539.15V344.45Z" fill="#000" fill-opacity="0.22"/>
<line x1="328.4" x2="328.4" y1="346.45" y2="297.45" stroke="#A3A500" stroke-width="0.85" stroke-dasharray="3.42 3.43"/>
<line x1="361.2" x2="361.2" y1="346.45" y2="297.45" stroke="#A3A500" stroke-width="0.85" stroke-dasharray="3.42 3.43"/>
<line x1="411.4" x2="411.4" y1="346.45" y2="297.45" stroke="#A3A500" stroke-width="0.85" stroke-dasharray="3.42 3.43"/>
<line x1="417.4" x2="417.4" y1="346.45" y2="297.45" stroke="#A3A500" stroke-width="0.85" stroke-dasharray="3.42 3.43"/>
<line x1="379.5" x2="379.5" y1="346.45" y2="297.45" stroke="#111" stroke-width="1.0" stroke-dasharray="3.42 3.43"/>
</g>
<line x1="17" x2="18" y1="344.45" y2="344.45" stroke="#333" stroke-width="0.5"/>
<text x="15.6" y="346.25" text-anchor="end" class="t">0.0</text>
<line x1="17" x2="18" y1="335.19" y2="335.19" stroke="#333" stroke-width="0.5"/>
<text x="15.6" y="336.99" text-anchor="end" class="t">2.5</text>
<line x1="17" x2="18" y1="325.93" y2="325.93" stroke="#333" stroke-width="0.5"/>
<text x="15.6" y="327.73" text-anchor="end" class="t">5.0</text>
<line x1="17" x2="18" y1="316.67" y2="316.67" stroke="#333" stroke-width="0.5"/>
<text x="15.6" y="318.47" text-anchor="end" class="t">7.5</text>
<line x1="17" x2="18" y1="307.41" y2="307.41" stroke="#333" stroke-width="0.5"/>
<text x="15.6" y="309.21" text-anchor="end" class="t">10.0</text>
<line x1="17" x2="18" y1="298.15" y2="298.15" stroke="#333" stroke-width="0.5"/>
<text x="15.6" y="299.95" text-anchor="end" class="t">12.5</text>
<text transform="translate(541.57 321.95) rotate(90)" text-anchor="middle" class="s">B</text>
<clipPath id="c6"><rect x="18" y="349.75" width="521.15" height="48.95"/></clipPath>
<rect x="18" y="349.75" width="521.15" height="48.95" fill="#ECECEC"/>
<rect x="539.15" y="349.75" width="8.25" height="48.95" fill="#DCDCDC"/>
<g clip-path="url(#c6)">
<path d="M18 388.7H539.15M18 372.59H539.15M18 356.48H539.15" stroke="#fff" stroke-opacity="0.42" stroke-width="0.9" fill="none"/>
<path d="M18 396.75H539.15M18 380.64H539.15M18 364.54H539.15" stroke="#fff" stroke-opacity="0.45" stroke-width="0.9" fill="none"/>
<path d="M121.08 349.75V398.7M278.82 349.75V398.7M436.57 349.75V398.7" stroke="#fff" stroke-opacity="0.22" stroke-width="0.6" fill="none"/>
<path d="M42.2 349.75V398.7M199.95 349.75V398.7M357.7 349.75V398.7M515.45 349.75V398.7" stroke="#fff" stroke-opacity="0.38" stroke-width="0.9" fill="none"/>
<line x1="42.2" x2="539.15" y1="396.75" y2="396.75" stroke="#A3A3A3" stroke-width="1.15"/>
<path d="M29.58 396.75V385.48H54.82V396.75ZM54.82 396.75V374.2H80.06V396.75ZM80.06 396.75V351.65H105.3V396.75ZM105.3 396.75V364.54H130.54V396.75ZM130.54 396.75V370.98H155.78V396.75ZM155.78 396.75V379.03H181.02V396.75ZM181.02 396.75V385.48H206.26V396.75ZM206.26 396.75V379.03H231.5V396.75ZM231.5 396.75V383.86H256.74V396.75ZM256.74 396.75V393.53H281.98V396.75ZM281.98 396.75V391.92H307.22V396.75ZM307.22 396.75V393.53H332.46V396.75ZM483.9 396.75V395.14H509.14V396.75ZM509.14 396.75V395.14H534.38V396.75Z" fill="#03D6B6"/>
<path d="M18 388.7H539.15M18 372.59H539.15M18 356.48H539.15" stroke="#fff" stroke-opacity="0.084" stroke-width="0.9" fill="none"/>
<path d="M18 396.75H539.15M18 380.64H539.15M18 364.54H539.15" stroke="#fff" stroke-opacity="0.09" stroke-width="0.9" fill="none"/>
<path d="M121.08 349.75V398.7M278.82 349.75V398.7M436.57 349.75V398.7" stroke="#fff" stroke-opacity="0.044" stroke-width="0.6" fill="none"/>
<path d="M42.2 349.75V398.7M199.95 349.75V398.7M357.7 349.75V398.7M515.45 349.75V398.7" stroke="#fff" stroke-opacity="0.076" stroke-width="0.9" fill="none"/>
<line x1="42.2" x2="539.15" y1="397.04" y2="397.04" stroke="#A3A3A3" stroke-width="0.575"/>
<path d="M42.2 396.75V396.18H54.82V396.75ZM54.82 396.75V396.18H80.06V396.75ZM80.06 396.75V396.18H105.3V396.75ZM105.3 396.75V396.18H130.54V396.75ZM130.54 396.75V396.18H155.78V396.75ZM155.78 396.75V396.18H181.02V396.75ZM181.02 396.75V396.18H206.26V396.75ZM206.26 396.75V396.18H231.5V396.75ZM231.5 396.75V396.18H256.74V396.75ZM256.74 396.75V396.18H281.98V396.75ZM281.98 396.75V396.18H307.22V396.75ZM307.22 396.75V396.18H332.46V396.75ZM483.9 396.75V396.18H509.14V396.75ZM509.14 396.75V396.18H534.38V396.75Z" fill="#000" fill-opacity="0.22"/>
<line x1="107.8" x2="107.8" y1="398.7" y2="349.75" stroke="#00BF7D" stroke-width="0.85" stroke-dasharray="3.42 3.43"/>
<line x1="145.6" x2="145.6" y1="398.7" y2="349.75" stroke="#00BF7D" stroke-width="0.85" stroke-dasharray="3.42 3.43"/>
<line x1="158.5" x2="158.5" y1="398.7" y2="349.75" stroke="#00BF7D" stroke-width="0.85" stroke-dasharray="3.42 3.43"/>
<line x1="174.3" x2="174.3" y1="398.7" y2="349.75" stroke="#00BF7D" stroke-width="0.85" stroke-dasharray="3.42 3.43"/>
<line x1="146.1" x2="146.1" y1="398.7" y2="349.75" stroke="#111" stroke-width="1.0" stroke-dasharray="3.42 3.43"/>
</g>
<line x1="17" x2="18" y1="396.75" y2="396.75" stroke="#333" stroke-width="0.5"/>
<text x="15.6" y="398.55" text-anchor="end" class="t">0</text>
<line x1="17" x2="18" y1="380.64" y2="380.64" stroke="#333" stroke-width="0.5"/>
<text x="15.6" y="382.44" text-anchor="end" class="t">10</text>
<line x1="17" x2="18" y1="364.54" y2="364.54" stroke="#333" stroke-width="0.5"/>
<text x="15.6" y="366.34" text-anchor="end" class="t">20</text>
<text transform="translate(541.57 374.23) rotate(90)" text-anchor="middle" class="s">C</text>
<line x1="42.2" x2="42.2" y1="398.7" y2="400" stroke="#333" stroke-width="0.5"/>
<text x="42.2" y="404.65" text-anchor="middle" class="t">0</text>
<line x1="199.95" x2="199.95" y1="398.7" y2="400" stroke="#333" stroke-width="0.5"/>
<text x="199.95" y="404.65" text-anchor="middle" class="t">500</text>
<line x1="357.7" x2="357.7" y1="398.7" y2="400" stroke="#333" stroke-width="0.5"/>
<text x="357.7" y="404.65" text-anchor="middle" class="t">1,000</text>
<line x1="515.45" x2="515.45" y1="398.7" y2="400" stroke="#333" stroke-width="0.5"/>
<text x="515.45" y="404.65" text-anchor="middle" class="t">1,500</text>
<text x="279" y="411.2" text-anchor="middle" class="a">Height (RFU)</text>
<text x="18.2" y="290.5" class="h">(B)</text>
<text transform="translate(6.1 343.6) rotate(-90)" text-anchor="middle" class="a">Density</text>
<clipPath id="c7"><rect x="18" y="429.3" width="521.15" height="49"/></clipPath>
<rect x="18" y="429.3" width="521.15" height="49" fill="#ECECEC"/>
<rect x="539.15" y="429.3" width="8.25" height="49" fill="#DCDCDC"/>
<g clip-path="url(#c7)">
<path d="M18 470.98H539.15M18 460.13H539.15M18 449.29H539.15M18 438.45H539.15" stroke="#fff" stroke-opacity="0.42" stroke-width="0.9" fill="none"/>
<path d="M18 476.4H539.15M18 465.56H539.15M18 454.71H539.15M18 443.87H539.15M18 433.03H539.15" stroke="#fff" stroke-opacity="0.45" stroke-width="0.9" fill="none"/>
<path d="M101.39 429.3V478.3M219.66 429.3V478.3M337.94 429.3V478.3M456.21 429.3V478.3" stroke="#fff" stroke-opacity="0.22" stroke-width="0.6" fill="none"/>
<path d="M42.25 429.3V478.3M160.52 429.3V478.3M278.8 429.3V478.3M397.07 429.3V478.3M515.35 429.3V478.3" stroke="#fff" stroke-opacity="0.38" stroke-width="0.9" fill="none"/>
<line x1="42.25" x2="539.15" y1="476.4" y2="476.4" stroke="#A3A3A3" stroke-width="1.15"/>
<path d="M-52.37 476.4V431.4H136.87V476.4ZM136.87 476.4V461.22H326.11V476.4ZM326.11 476.4V469.89H515.35V476.4ZM515.35 476.4V474.01H704.59V476.4Z" fill="#19CFF5"/>
<path d="M18 470.98H539.15M18 460.13H539.15M18 449.29H539.15M18 438.45H539.15" stroke="#fff" stroke-opacity="0.084" stroke-width="0.9" fill="none"/>
<path d="M18 476.4H539.15M18 465.56H539.15M18 454.71H539.15M18 443.87H539.15M18 433.03H539.15" stroke="#fff" stroke-opacity="0.09" stroke-width="0.9" fill="none"/>
<path d="M101.39 429.3V478.3M219.66 429.3V478.3M337.94 429.3V478.3M456.21 429.3V478.3" stroke="#fff" stroke-opacity="0.044" stroke-width="0.6" fill="none"/>
<path d="M42.25 429.3V478.3M160.52 429.3V478.3M278.8 429.3V478.3M397.07 429.3V478.3M515.35 429.3V478.3" stroke="#fff" stroke-opacity="0.076" stroke-width="0.9" fill="none"/>
<line x1="42.25" x2="539.15" y1="476.69" y2="476.69" stroke="#A3A3A3" stroke-width="0.575"/>
<path d="M42.25 476.4V475.83H136.87V476.4ZM136.87 476.4V475.83H326.11V476.4ZM326.11 476.4V475.83H515.35V476.4ZM515.35 476.4V475.83H539.15V476.4Z" fill="#000" fill-opacity="0.22"/>
<line x1="100.3" x2="100.3" y1="478.3" y2="429.3" stroke="#1AAEF5" stroke-width="0.85" stroke-dasharray="3.42 3.43"/>
<line x1="146" x2="146" y1="478.3" y2="429.3" stroke="#1AAEF5" stroke-width="0.85" stroke-dasharray="3.42 3.43"/>
<line x1="223.9" x2="223.9" y1="478.3" y2="429.3" stroke="#1AAEF5" stroke-width="0.85" stroke-dasharray="3.42 3.43"/>
<line x1="157.5" x2="157.5" y1="478.3" y2="429.3" stroke="#111" stroke-width="1.0" stroke-dasharray="3.42 3.43"/>
</g>
<line x1="17" x2="18" y1="476.4" y2="476.4" stroke="#333" stroke-width="0.5"/>
<text x="15.6" y="478.2" text-anchor="end" class="t">0</text>
<line x1="17" x2="18" y1="465.56" y2="465.56" stroke="#333" stroke-width="0.5"/>
<text x="15.6" y="467.36" text-anchor="end" class="t">20</text>
<line x1="17" x2="18" y1="454.71" y2="454.71" stroke="#333" stroke-width="0.5"/>
<text x="15.6" y="456.51" text-anchor="end" class="t">40</text>
<line x1="17" x2="18" y1="443.87" y2="443.87" stroke="#333" stroke-width="0.5"/>
<text x="15.6" y="445.67" text-anchor="end" class="t">60</text>
<line x1="17" x2="18" y1="433.03" y2="433.03" stroke="#333" stroke-width="0.5"/>
<text x="15.6" y="434.83" text-anchor="end" class="t">80</text>
<text transform="translate(541.57 453.8) rotate(90)" text-anchor="middle" class="s">D</text>
<clipPath id="c8"><rect x="18" y="481.45" width="521.15" height="49.1"/></clipPath>
<rect x="18" y="481.45" width="521.15" height="49.1" fill="#ECECEC"/>
<rect x="539.15" y="481.45" width="8.25" height="49.1" fill="#DCDCDC"/>
<g clip-path="url(#c8)">
<path d="M18 522.85H539.15M18 510.64H539.15M18 498.44H539.15M18 486.23H539.15" stroke="#fff" stroke-opacity="0.42" stroke-width="0.9" fill="none"/>
<path d="M18 528.95H539.15M18 516.75H539.15M18 504.54H539.15M18 492.34H539.15" stroke="#fff" stroke-opacity="0.45" stroke-width="0.9" fill="none"/>
<path d="M101.39 481.45V530.55M219.66 481.45V530.55M337.94 481.45V530.55M456.21 481.45V530.55" stroke="#fff" stroke-opacity="0.22" stroke-width="0.6" fill="none"/>
<path d="M42.25 481.45V530.55M160.52 481.45V530.55M278.8 481.45V530.55M397.07 481.45V530.55M515.35 481.45V530.55" stroke="#fff" stroke-opacity="0.38" stroke-width="0.9" fill="none"/>
<line x1="42.25" x2="539.15" y1="528.95" y2="528.95" stroke="#A3A3A3" stroke-width="1.15"/>
<path d="M-52.37 528.95V483.55H136.87V528.95ZM136.87 528.95V521.38H326.11V528.95ZM326.11 528.95V521.38H515.35V528.95ZM515.35 528.95V527.58H704.59V528.95Z" fill="#FCA8F8"/>
<path d="M18 522.85H539.15M18 510.64H539.15M18 498.44H539.15M18 486.23H539.15" stroke="#fff" stroke-opacity="0.084" stroke-width="0.9" fill="none"/>
<path d="M18 528.95H539.15M18 516.75H539.15M18 504.54H539.15M18 492.34H539.15" stroke="#fff" stroke-opacity="0.09" stroke-width="0.9" fill="none"/>
<path d="M101.39 481.45V530.55M219.66 481.45V530.55M337.94 481.45V530.55M456.21 481.45V530.55" stroke="#fff" stroke-opacity="0.044" stroke-width="0.6" fill="none"/>
<path d="M42.25 481.45V530.55M160.52 481.45V530.55M278.8 481.45V530.55M397.07 481.45V530.55M515.35 481.45V530.55" stroke="#fff" stroke-opacity="0.076" stroke-width="0.9" fill="none"/>
<line x1="42.25" x2="539.15" y1="529.24" y2="529.24" stroke="#A3A3A3" stroke-width="0.575"/>
<path d="M42.25 528.95V528.37H136.87V528.95ZM136.87 528.95V528.37H326.11V528.95ZM326.11 528.95V528.37H515.35V528.95ZM515.35 528.95V528.37H539.15V528.95Z" fill="#000" fill-opacity="0.22"/>
<line x1="81.4" x2="81.4" y1="530.55" y2="481.45" stroke="#F26CEE" stroke-width="0.85" stroke-dasharray="3.42 3.43"/>
<line x1="121.9" x2="121.9" y1="530.55" y2="481.45" stroke="#F26CEE" stroke-width="0.85" stroke-dasharray="3.42 3.43"/>
<line x1="146.4" x2="146.4" y1="530.55" y2="481.45" stroke="#F26CEE" stroke-width="0.85" stroke-dasharray="3.42 3.43"/>
<line x1="190" x2="190" y1="530.55" y2="481.45" stroke="#F26CEE" stroke-width="0.85" stroke-dasharray="3.42 3.43"/>
<line x1="135.2" x2="135.2" y1="530.55" y2="481.45" stroke="#111" stroke-width="1.0" stroke-dasharray="3.42 3.43"/>
</g>
<line x1="17" x2="18" y1="528.95" y2="528.95" stroke="#333" stroke-width="0.5"/>
<text x="15.6" y="530.75" text-anchor="end" class="t">0</text>
<line x1="17" x2="18" y1="516.75" y2="516.75" stroke="#333" stroke-width="0.5"/>
<text x="15.6" y="518.55" text-anchor="end" class="t">25</text>
<line x1="17" x2="18" y1="504.54" y2="504.54" stroke="#333" stroke-width="0.5"/>
<text x="15.6" y="506.34" text-anchor="end" class="t">50</text>
<line x1="17" x2="18" y1="492.34" y2="492.34" stroke="#333" stroke-width="0.5"/>
<text x="15.6" y="494.14" text-anchor="end" class="t">75</text>
<text transform="translate(541.57 506) rotate(90)" text-anchor="middle" class="s">E</text>
<line x1="42.25" x2="42.25" y1="530.55" y2="531.85" stroke="#333" stroke-width="0.5"/>
<text x="42.25" y="536.5" text-anchor="middle" class="t">0</text>
<line x1="160.52" x2="160.52" y1="530.55" y2="531.85" stroke="#333" stroke-width="0.5"/>
<text x="160.52" y="536.5" text-anchor="middle" class="t">50</text>
<line x1="278.8" x2="278.8" y1="530.55" y2="531.85" stroke="#333" stroke-width="0.5"/>
<text x="278.8" y="536.5" text-anchor="middle" class="t">100</text>
<line x1="397.07" x2="397.07" y1="530.55" y2="531.85" stroke="#333" stroke-width="0.5"/>
<text x="397.07" y="536.5" text-anchor="middle" class="t">150</text>
<line x1="515.35" x2="515.35" y1="530.55" y2="531.85" stroke="#333" stroke-width="0.5"/>
<text x="515.35" y="536.5" text-anchor="middle" class="t">200</text>
<text x="279" y="543.1" text-anchor="middle" class="a">Height (RFU)</text>
<text x="18.2" y="423.4" class="h">(C)</text>
<text transform="translate(6.1 477.5) rotate(-90)" text-anchor="middle" class="a">Density</text>
</svg>
</body></html>
